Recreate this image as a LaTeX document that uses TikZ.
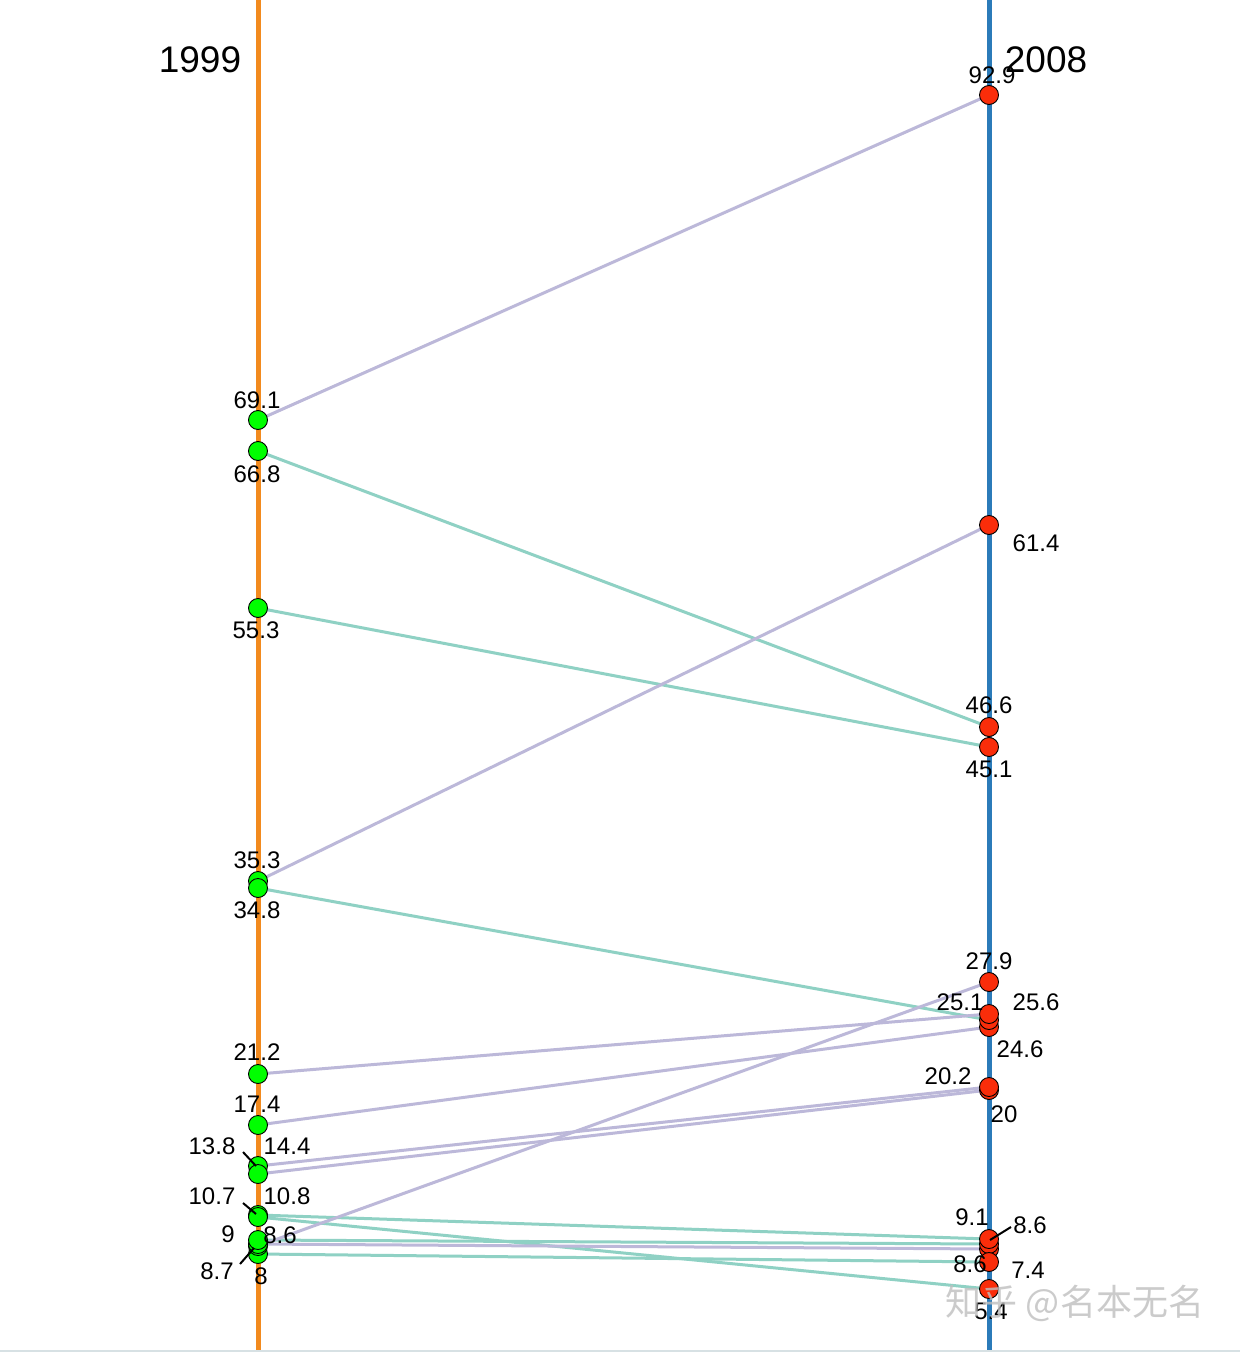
\documentclass[tikz,border=0pt]{standalone}
\usepackage{fontspec}
\setmainfont{Liberation Sans}
\newfontfamily\cjkf{Noto Sans CJK SC}
\begin{document}
\begin{tikzpicture}[x=1pt,y=-1pt,
  dotL/.style={circle,draw=black,fill=green,inner sep=0pt,minimum size=19pt,line width=0.9pt},
  dotR/.style={circle,draw=black,fill={rgb,255:red,250;green,45;blue,10},inner sep=0pt,minimum size=19pt,line width=0.9pt},
  up/.style={draw={rgb,255:red,188;green,184;blue,217},line width=3pt},
  dn/.style={draw={rgb,255:red,143;green,209;blue,196},line width=3pt},
  lab/.style={font=\fontsize{24}{26}\selectfont,inner sep=0pt},
  lead/.style={draw=black,line width=2pt}]
\useasboundingbox (0,0) rectangle (1240,1354);
\fill[white] (0,0) rectangle (1240,1354);
\draw[line width=5pt,draw={rgb,255:red,242;green,138;blue,30}] (258,0) -- (258,1350);
\draw[line width=5pt,draw={rgb,255:red,43;green,123;blue,185}] (989,0) -- (989,1350);
\draw[line width=1.5pt,draw={rgb,255:red,215;green,225;blue,228}] (0,1351) -- (1240,1351);
% coordinates
\foreach \n/\y in {a/420,b/451,c/608,d/881,e/888,f/1074,g/1125,h/1166,i/1174,j/1215,k/1217,l/1240,m/1244,n/1246,o/1254}
  \coordinate (L\n) at (258,\y);
\foreach \n/\y in {a/95,b/525,c/727,d/747,e/982,f/1014,g/1020,h/1027,i/1087,j/1090,k/1239,l/1244,m/1249,n/1262,o/1289}
  \coordinate (R\n) at (989,\y);
% connectors
\draw[up] (La) -- (Ra);
\draw[dn] (Lb) -- (Rc);
\draw[dn] (Lc) -- (Rd);
\draw[up] (Ld) -- (Rb);
\draw[dn] (Le) -- (Rg);
\draw[up] (Lf) -- (Rf);
\draw[up] (Lg) -- (Rh);
\draw[up] (Lh) -- (Ri);
\draw[up] (Li) -- (Rj);
\draw[dn] (Lj) -- (Rk);
\draw[dn] (Lk) -- (Ro);
\draw[dn] (Ll) -- (Rl);
\draw[up] (Lm) -- (Rm);
\draw[up] (Ln) -- (Re);
\draw[dn] (Lo) -- (Rn);
% dots
\foreach \n in {a,b,c,d,e,f,g,h,i,j,k,o,n,m,l} \node[dotL] (DL\n) at (L\n) {};
\foreach \n in {a,b,c,d,e,j,i,h,g,f,m,l,k,n,o} \node[dotR] (DR\n) at (R\n) {};
% titles
\node[font=\fontsize{37}{40}\selectfont] (t1) at (200,60) {1999};
\node[font=\fontsize{37}{40}\selectfont] (t2) at (1046,60) {2008};
% left labels
\node[lab] (l1) at (257,400) {69.1};
\node[lab] (l2) at (257,474) {66.8};
\node[lab] (l3) at (256,630) {55.3};
\node[lab] (l4) at (257,860) {35.3};
\node[lab] (l5) at (257,910) {34.8};
\node[lab] (l6) at (257,1052) {21.2};
\node[lab] (l7) at (257,1104) {17.4};
\node[lab] (l8) at (212,1146) {13.8};
\node[lab] (l9) at (287,1146) {14.4};
\node[lab] (l10) at (212,1196) {10.7};
\node[lab] (l11) at (287,1196) {10.8};
\node[lab] (l12) at (228,1234) {9};
\node[lab] (l13) at (280,1235) {8.6};
\node[lab] (l14) at (217,1271) {8.7};
\node[lab] (l15) at (261,1276) {8};
\coordinate (c1) at (243,1152); \coordinate (c2) at (256,1166);
\draw[lead] (c1) -- (c2);
\coordinate (c3) at (243,1203); \coordinate (c4) at (256,1214);
\draw[lead] (c3) -- (c4);
\coordinate (c5) at (240,1264); \coordinate (c6) at (254,1248);
\draw[lead] (c5) -- (c6);
% right labels
\node[lab] (r1) at (992,75) {92.9};
\node[lab] (r2) at (1036,543) {61.4};
\node[lab] (r3) at (989,705) {46.6};
\node[lab] (r4) at (989,769) {45.1};
\node[lab] (r5) at (989,961) {27.9};
\node[lab] (r6) at (960,1002) {25.1};
\node[lab] (r7) at (1036,1002) {25.6};
\node[lab] (r8) at (1020,1049) {24.6};
\node[lab] (r9) at (948,1076) {20.2};
\node[lab] (r10) at (1004,1114) {20};
\node[lab] (r11) at (972,1217) {9.1};
\node[lab] (r12) at (1030,1225) {8.6};
\node[lab] (r13) at (970,1264) {8.6};
\node[lab] (r14) at (1028,1270) {7.4};
\node[lab] (r15) at (991,1311) {5.4};
\coordinate (c7) at (1011,1227); \coordinate (c8) at (990,1240);
\draw[lead] (c7) -- (c8);
% watermark
\node[font=\cjkf\fontsize{36}{38}\selectfont,text=black!25,opacity=0.8] (wm) at (1075,1303) {知乎 @名本无名};
\end{tikzpicture}
\end{document}
